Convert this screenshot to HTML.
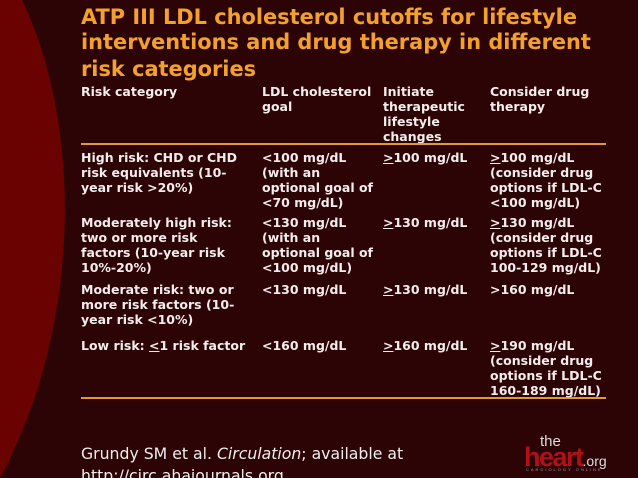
<!DOCTYPE html>
<html><head><meta charset="utf-8"><style>
html,body{margin:0;width:638px;height:478px;overflow:hidden;}
body{background:#2d0405;position:relative;font-family:"DejaVu Sans","Liberation Sans",sans-serif;}
.t{position:absolute;left:81px;top:5px;color:#f2a12e;font-weight:bold;font-size:20.9px;line-height:25px;white-space:nowrap;}
.c{position:absolute;color:#f3ecec;font-weight:bold;font-size:12.5px;line-height:15px;white-space:nowrap;}
.line{position:absolute;left:81px;width:525px;height:2px;background:#e09a30;}
.foot{position:absolute;left:81px;top:443px;color:#eee;font-size:15.7px;line-height:22px;white-space:nowrap;}
</style></head><body>
<svg style="position:absolute;left:0;top:0" width="638" height="478"><path d="M0,0 L22,0 C80,120 85,320 0,478 Z" fill="#6a0202"/></svg>
<div class="t">ATP III LDL cholesterol cutoffs for lifestyle<br>interventions and drug therapy in different<br><span style="line-height:28px">risk categories</span></div>
<div class="c" style="left:81px;top:84px">Risk category</div>
<div class="c" style="left:262px;top:84px">LDL cholesterol<br>goal</div>
<div class="c" style="left:383px;top:84px">Initiate<br>therapeutic<br>lifestyle<br>changes</div>
<div class="c" style="left:490px;top:84px">Consider drug<br>therapy</div>
<div class="line" style="top:143px"></div>

<div class="c" style="left:81px;top:150px">High risk: CHD or CHD<br>risk equivalents (10-<br>year risk &gt;20%)</div>
<div class="c" style="left:262px;top:150px">&lt;100 mg/dL<br>(with an<br>optional goal of<br>&lt;70 mg/dL)</div>
<div class="c" style="left:383px;top:150px"><u>&gt;</u>100 mg/dL</div>
<div class="c" style="left:490px;top:150px"><u>&gt;</u>100 mg/dL<br>(consider drug<br>options if LDL-C<br>&lt;100 mg/dL)</div>

<div class="c" style="left:81px;top:215px">Moderately high risk:<br>two or more risk<br>factors (10-year risk<br>10%-20%)</div>
<div class="c" style="left:262px;top:215px">&lt;130 mg/dL<br>(with an<br>optional goal of<br>&lt;100 mg/dL)</div>
<div class="c" style="left:383px;top:215px"><u>&gt;</u>130 mg/dL</div>
<div class="c" style="left:490px;top:215px"><u>&gt;</u>130 mg/dL<br>(consider drug<br>options if LDL-C<br>100-129 mg/dL)</div>

<div class="c" style="left:81px;top:282px">Moderate risk: two or<br>more risk factors (10-<br>year risk &lt;10%)</div>
<div class="c" style="left:262px;top:282px">&lt;130 mg/dL</div>
<div class="c" style="left:383px;top:282px"><u>&gt;</u>130 mg/dL</div>
<div class="c" style="left:490px;top:282px">&gt;160 mg/dL</div>

<div class="c" style="left:81px;top:338px">Low risk: <u>&lt;</u>1 risk factor</div>
<div class="c" style="left:262px;top:338px">&lt;160 mg/dL</div>
<div class="c" style="left:383px;top:338px"><u>&gt;</u>160 mg/dL</div>
<div class="c" style="left:490px;top:338px"><u>&gt;</u>190 mg/dL<br>(consider drug<br>options if LDL-C<br>160-189 mg/dL)</div>
<div class="line" style="top:397px"></div>

<div class="foot">Grundy SM et al. <i>Circulation</i>; available at<br>http://circ.ahajournals.org</div>
<div style="position:absolute;left:524px;top:434px;width:105px;height:40px;font-family:'Liberation Sans',sans-serif;">
<div style="position:absolute;left:16px;top:0;color:#ddd;font-size:15px;line-height:15px">the</div>
<div style="position:absolute;left:0;top:10px;color:#b01018;font-size:27px;font-weight:bold;line-height:27px;letter-spacing:-1.5px">heart<span style="color:#ddd;font-size:14px;font-weight:normal;letter-spacing:0">.org</span></div>
<div style="position:absolute;left:2px;top:33px;color:#999;font-size:4px;letter-spacing:2px">CARDIOLOGY ONLINE</div>
</div>
</body></html>
